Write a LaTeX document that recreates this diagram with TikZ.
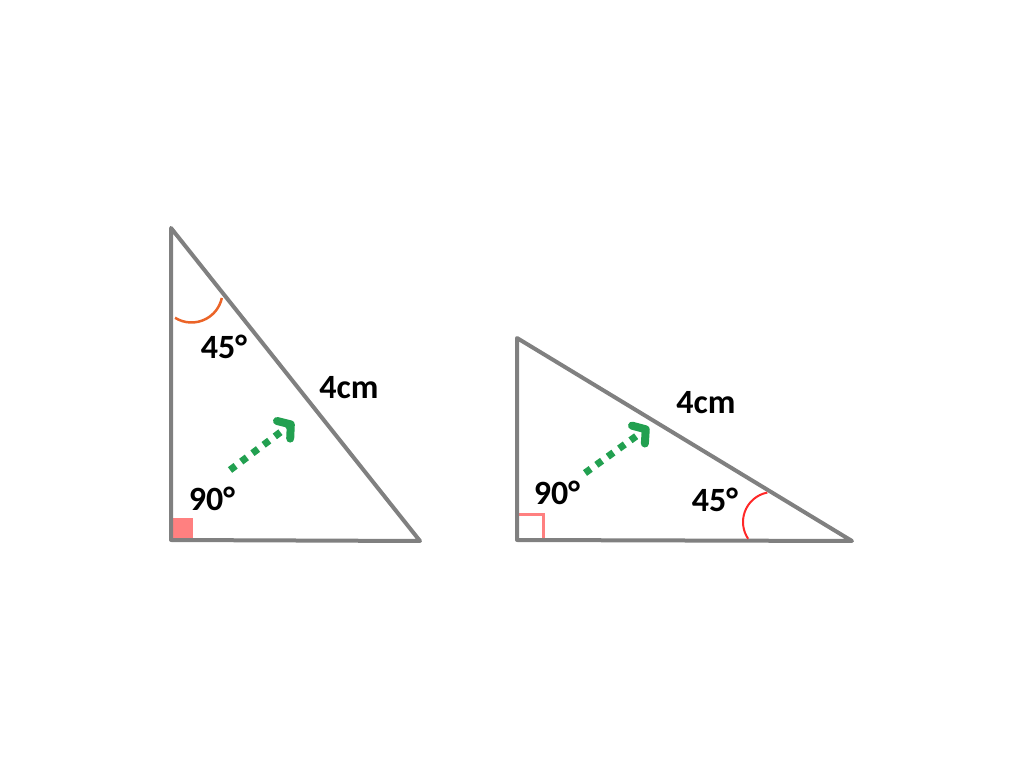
\documentclass[tikz,border=0pt]{standalone}
\usepackage{fontspec}
\setmainfont{Carlito}
\usetikzlibrary{arrows.meta,positioning}

\definecolor{lineGray}{RGB}{128,128,128}
\definecolor{markSalmon}{RGB}{255,128,128}
\definecolor{arcOrange}{RGB}{235,100,40}
\definecolor{arcRed}{RGB}{255,40,40}
\definecolor{hintGreen}{RGB}{34,160,80}

\begin{document}
\begin{tikzpicture}[x=1pt,y=1pt,
    edgeLine/.style={draw=lineGray,line width=4pt,line join=round,line cap=round},
    angleText/.style={font=\fontsize{34}{40}\selectfont\bfseries,inner sep=0pt},
    hintArrow/.style={draw=hintGreen,line width=7pt,dash pattern=on 7pt off 7pt,
                      -{Straight Barb[round,length=9pt,width=22pt,line width=8pt]}}]
    \useasboundingbox (0,0) rectangle (1024,768);

    % corners of the two triangles
    \coordinate (LeftTop)     at (171,540);
    \coordinate (LeftCorner)  at (171,228);
    \coordinate (LeftEnd)     at (420,227);
    \coordinate (RightTop)    at (517,430);
    \coordinate (RightCorner) at (517,228);
    \coordinate (RightEnd)    at (852,227);

    % right angle marks
    \fill[markSalmon] (LeftCorner) rectangle ++(22,22);
    \draw[markSalmon,line width=3pt] ([yshift=25pt]RightCorner) -| ([xshift=26pt]RightCorner);

    \draw[edgeLine] (LeftTop) -- (LeftCorner) -- (LeftEnd) -- cycle;
    \draw[edgeLine] (RightTop) -- (RightCorner) -- (RightEnd) -- cycle;

    % 45 degree arcs
    \draw[arcOrange,line width=2.5pt] (191.5,476.5) ++(238:31) arc[start angle=238,end angle=348,radius=31];
    \draw[arcRed,line width=2pt] (773,246) ++(101:30) arc[start angle=101,end angle=214,radius=30];

    % arrows towards the hypotenuse
    \coordinate (LeftFrom)  at (230,298);
    \coordinate (LeftTo)    at (294,346);
    \coordinate (RightFrom) at (585,295);
    \coordinate (RightTo)   at (649,341);
    \draw[hintArrow] (LeftFrom) -- (LeftTo);
    \draw[hintArrow] (RightFrom) -- (RightTo);

    \node[angleText] (LeftTopAngle)   at (224,421) {45°};
    \node[angleText] (LeftHyp)        at (349,380) {4cm};
    \node[angleText] (LeftRightAngle) at (212,269) {90°};
    \node[angleText] (RightHyp)        at (706,365) {4cm};
    \node[angleText] (RightRightAngle) at (557,275) {90°};
    \node[angleText] (RightEndAngle)   at (715,268) {45°};
\end{tikzpicture}
\end{document}
